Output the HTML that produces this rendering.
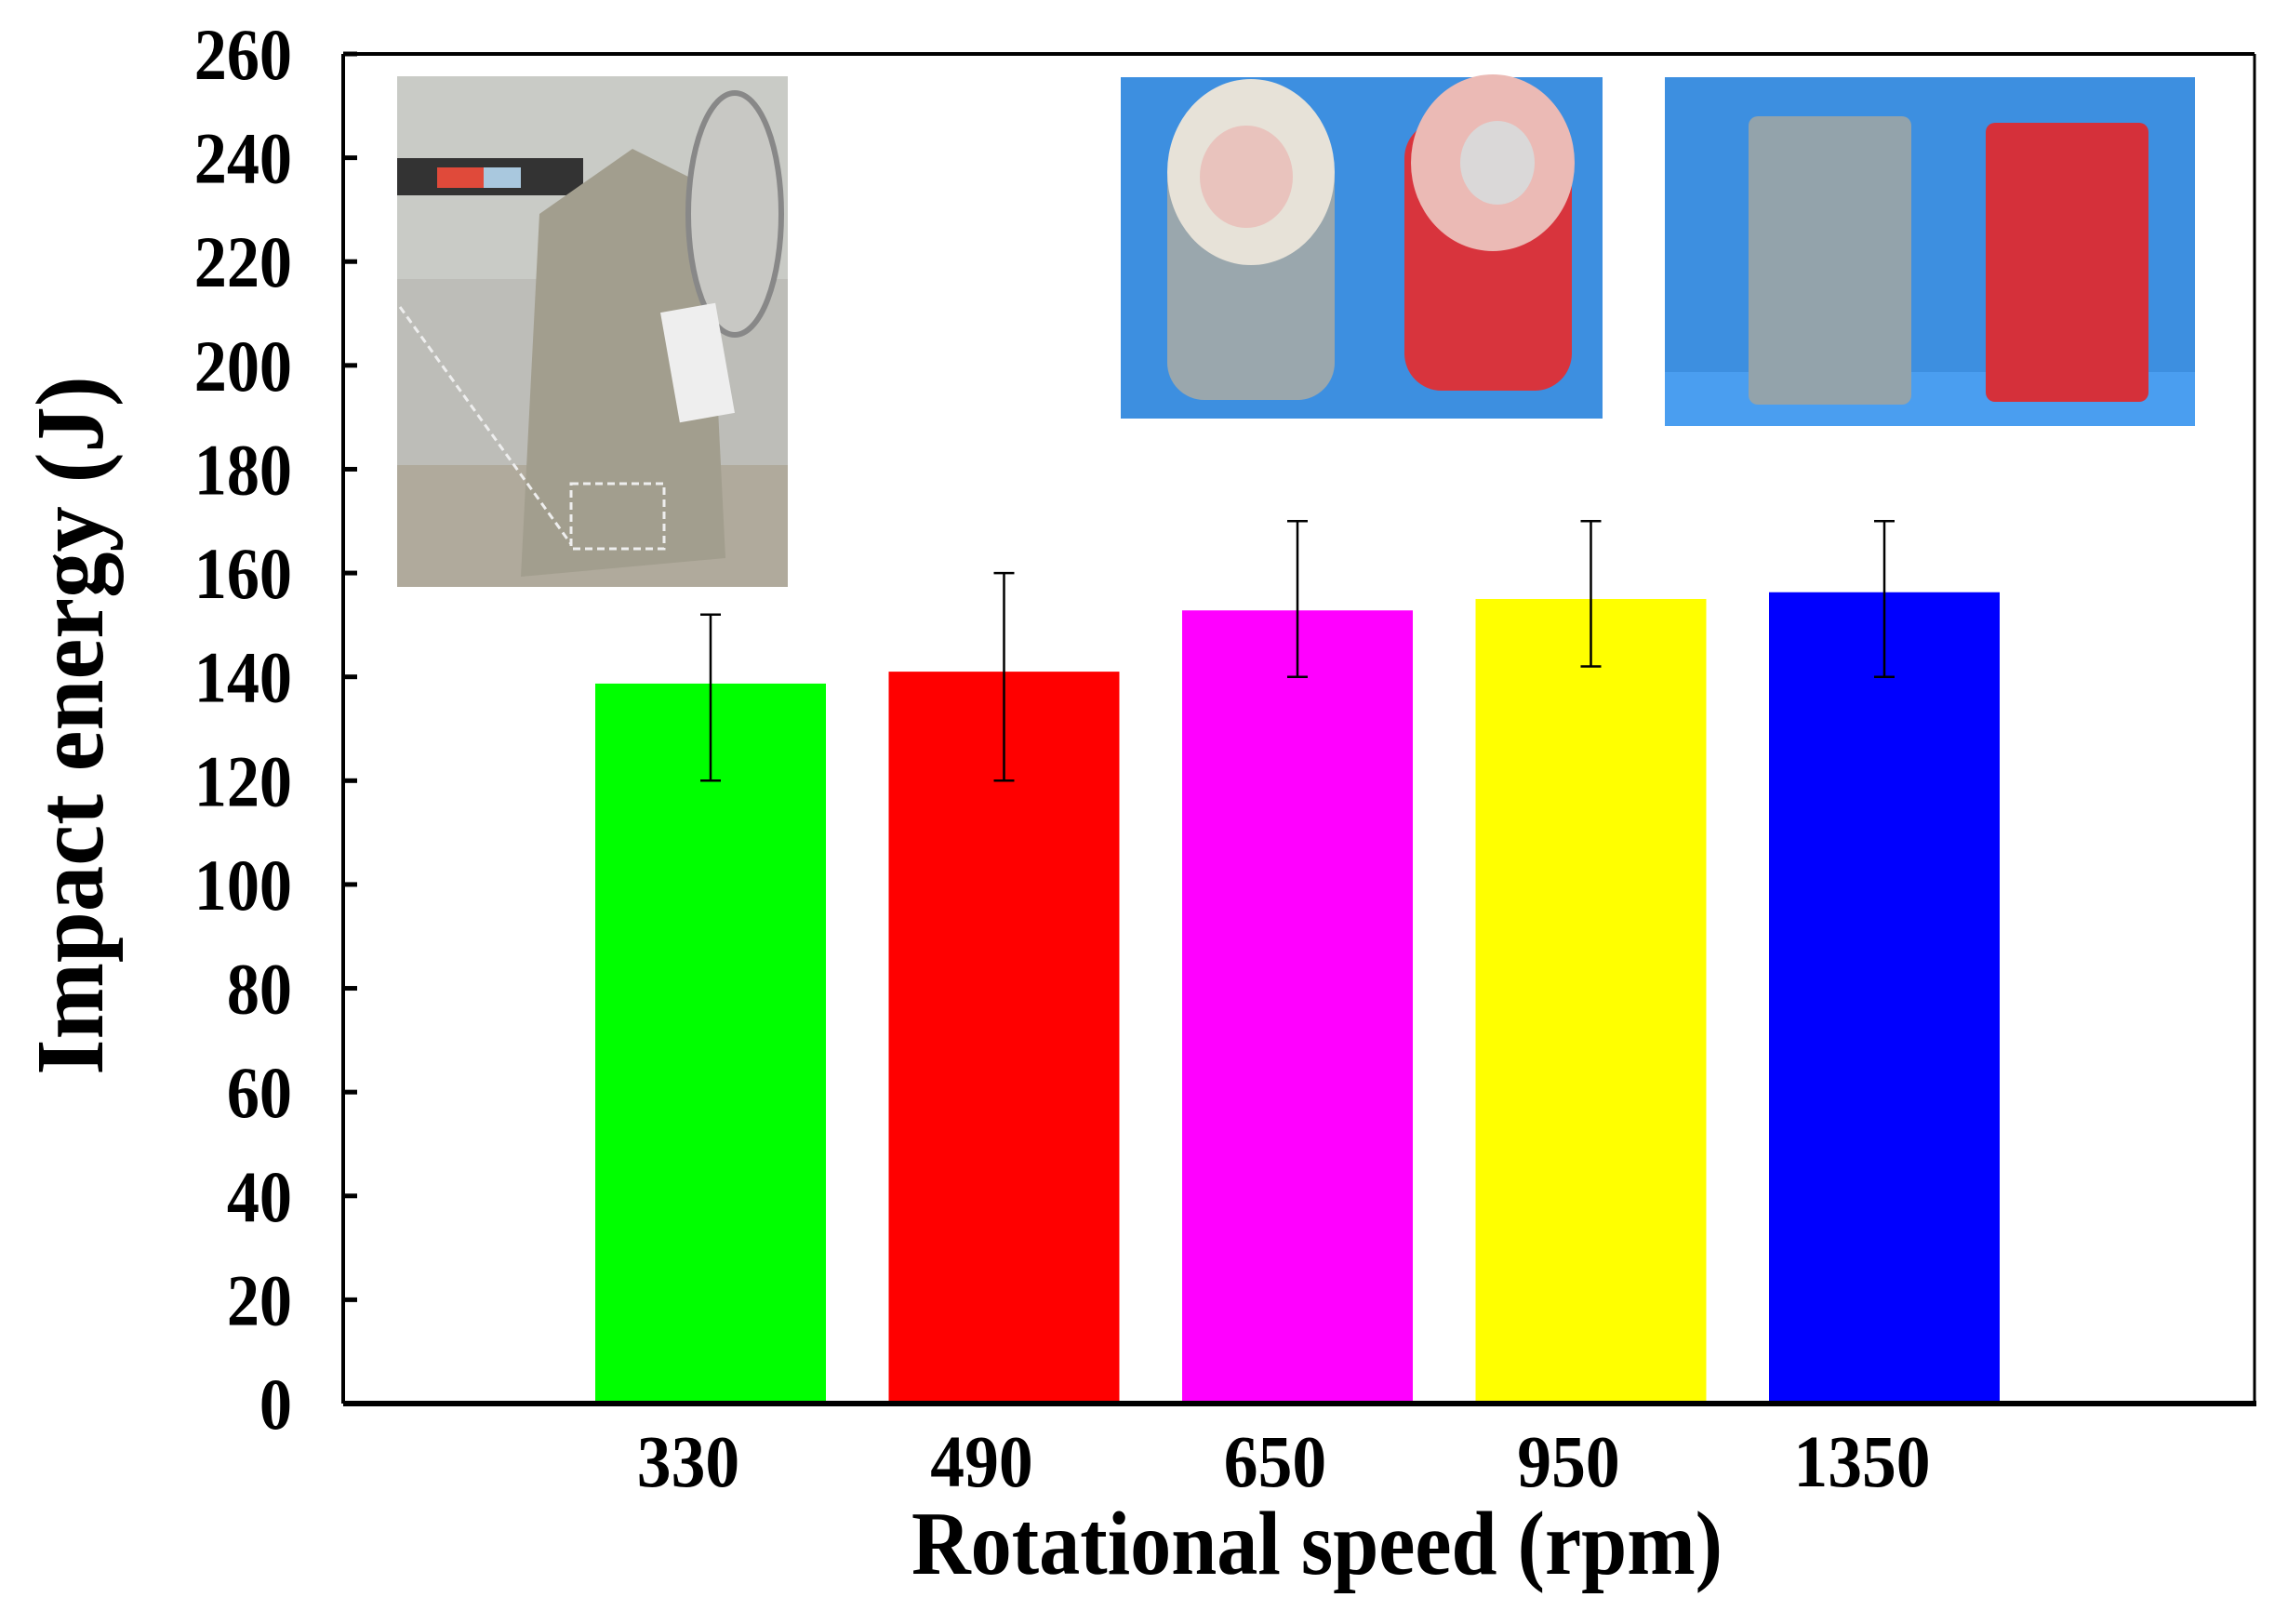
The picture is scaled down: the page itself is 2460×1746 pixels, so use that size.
<!DOCTYPE html>
<html><head><meta charset="utf-8"><style>
html,body{margin:0;padding:0;background:#fff;}
svg{display:block;}
text{font-family:"Liberation Serif",serif;font-weight:bold;fill:#000;}
</style></head><body>
<svg id="chart" width="2460" height="1746" viewBox="0 0 2460 1746" xmlns="http://www.w3.org/2000/svg">
<rect width="2460" height="1746" fill="#fff"/>
<g id="insets">
  <g>
    <rect x="427" y="82" width="420" height="549" fill="#b9b5aa"/>
    <rect x="427" y="82" width="420" height="300" fill="#c9cbc6"/>
    <rect x="427" y="300" width="420" height="331" fill="#bdbdb8"/>
    <rect x="427" y="500" width="420" height="131" fill="#b0aa9c"/>
    <rect x="427" y="170" width="200" height="40" fill="#333"/>
    <rect x="470" y="180" width="50" height="22" fill="#e04a3a"/>
    <rect x="520" y="180" width="40" height="22" fill="#a9c8de"/>
    <path d="M580 230 L680 160 L760 200 L780 600 L560 620 Z" fill="#a29e8e"/>
    <ellipse cx="790" cy="230" rx="50" ry="130" fill="#c8c8c4" stroke="#888" stroke-width="6"/>
    <rect x="720" y="330" width="60" height="120" fill="#eee" transform="rotate(-10 750 390)"/>
    <rect x="614" y="520" width="100" height="70" fill="none" stroke="#eee" stroke-width="3" stroke-dasharray="8 5"/>
    <line x1="430" y1="330" x2="614" y2="585" stroke="#eee" stroke-width="3" stroke-dasharray="8 5"/>
  </g>
  <g>
    <rect x="1205" y="83" width="518" height="367" fill="#3d8fe0"/>
    <rect x="1255" y="150" width="180" height="280" rx="40" fill="#9aa7ad"/>
    <ellipse cx="1345" cy="185" rx="90" ry="100" fill="#e7e2d8"/>
    <ellipse cx="1340" cy="190" rx="50" ry="55" fill="#e9c3bd"/>
    <rect x="1510" y="130" width="180" height="290" rx="40" fill="#d8343d"/>
    <ellipse cx="1605" cy="175" rx="88" ry="95" fill="#ebbab5"/>
    <ellipse cx="1610" cy="175" rx="40" ry="45" fill="#dad8d8"/>
  </g>
  <g>
    <rect x="1790" y="83" width="570" height="375" fill="#3d8fe0"/>
    <rect x="1790" y="400" width="570" height="58" fill="#4a9ef0"/>
    <rect x="1880" y="125" width="175" height="310" rx="10" fill="#93a3ab"/>
    <rect x="2135" y="132" width="175" height="300" rx="10" fill="#d5303a"/>
  </g>
</g>
<g id="plot"></g>
</svg>
<script>
const categories = ["330", "490", "650", "950", "1350"];
const values = [138.7, 141, 152.8, 155, 156.3];
const errLow = [120, 120, 140, 142, 140];
const errHigh = [152, 160, 170, 170, 170];
const colors = ["#00ff00", "#ff0000", "#ff00ff", "#ffff00", "#0000ff"];
const yTicks = [0, 20, 40, 60, 80, 100, 120, 140, 160, 180, 200, 220, 240, 260];

const NS = "http://www.w3.org/2000/svg";
const L = 369, R = 2424, T = 58, B = 1509;
const yMax = 260;
function yScale(v) { return B - v / yMax * (B - T); }
function xScale(i) { return 764 + i * 315.5; }
const barW = 248;
const g = document.getElementById("plot");
function el(tag, attrs, parent) {
  const e = document.createElementNS(NS, tag);
  for (const k in attrs) e.setAttribute(k, attrs[k]);
  (parent || g).appendChild(e);
  return e;
}
categories.forEach((c, i) => {
  const b = el("rect", {x: xScale(i) - barW / 2, y: yScale(values[i]), width: barW, height: B - yScale(values[i]), fill: colors[i]});
  
  
});
categories.forEach((c, i) => {
  const eg = el("g", {stroke: "#000", "stroke-width": 2.5});
  
  
  const x = xScale(i);
  el("line", {x1: x, x2: x, y1: yScale(errLow[i]), y2: yScale(errHigh[i])}, eg);
  el("line", {x1: x - 11, x2: x + 11, y1: yScale(errLow[i]), y2: yScale(errLow[i])}, eg);
  el("line", {x1: x - 11, x2: x + 11, y1: yScale(errHigh[i]), y2: yScale(errHigh[i])}, eg);
});
const fr = el("g", {stroke: "#000", fill: "none"});


el("line", {x1: L, x2: R, y1: T, y2: T, "stroke-width": 4}, fr);
el("line", {x1: R, x2: R, y1: T, y2: B, "stroke-width": 3}, fr);
el("line", {x1: L, x2: L, y1: T, y2: B, "stroke-width": 4}, fr);
const xa = el("line", {x1: L, x2: R + 2, y1: B, y2: B, "stroke-width": 6, stroke: "#000"});


yTicks.forEach(v => {
  const y = yScale(v);
  const tk = el("line", {x1: L, x2: L + 15, y1: y, y2: y, stroke: "#000", "stroke-width": 5});
  
  
  const t = el("text", {x: 0, y: 0, "text-anchor": "end", "font-size": 78, transform: `translate(314 ${y + 27}) scale(0.9 1)`});
  t.textContent = v;
  
  
});
categories.forEach((c, i) => {
  const t = el("text", {x: 0, y: 0, "text-anchor": "middle", "font-size": 80, transform: `translate(${xScale(i) - 24} 1598) scale(0.92 1)`});
  t.textContent = c;
  
  
});
const xt = el("text", {x: 0, y: 0, "text-anchor": "middle", "font-size": 98, transform: "translate(1416 1692) scale(0.9 1)"});
xt.textContent = "Rotational speed (rpm)";


const yt = el("text", {x: 0, y: 0, "text-anchor": "middle", "font-size": 104, transform: "translate(110 780) rotate(-90) scale(0.95 1)"});
yt.textContent = "Impact energy (J)";


</script>
</body></html>
